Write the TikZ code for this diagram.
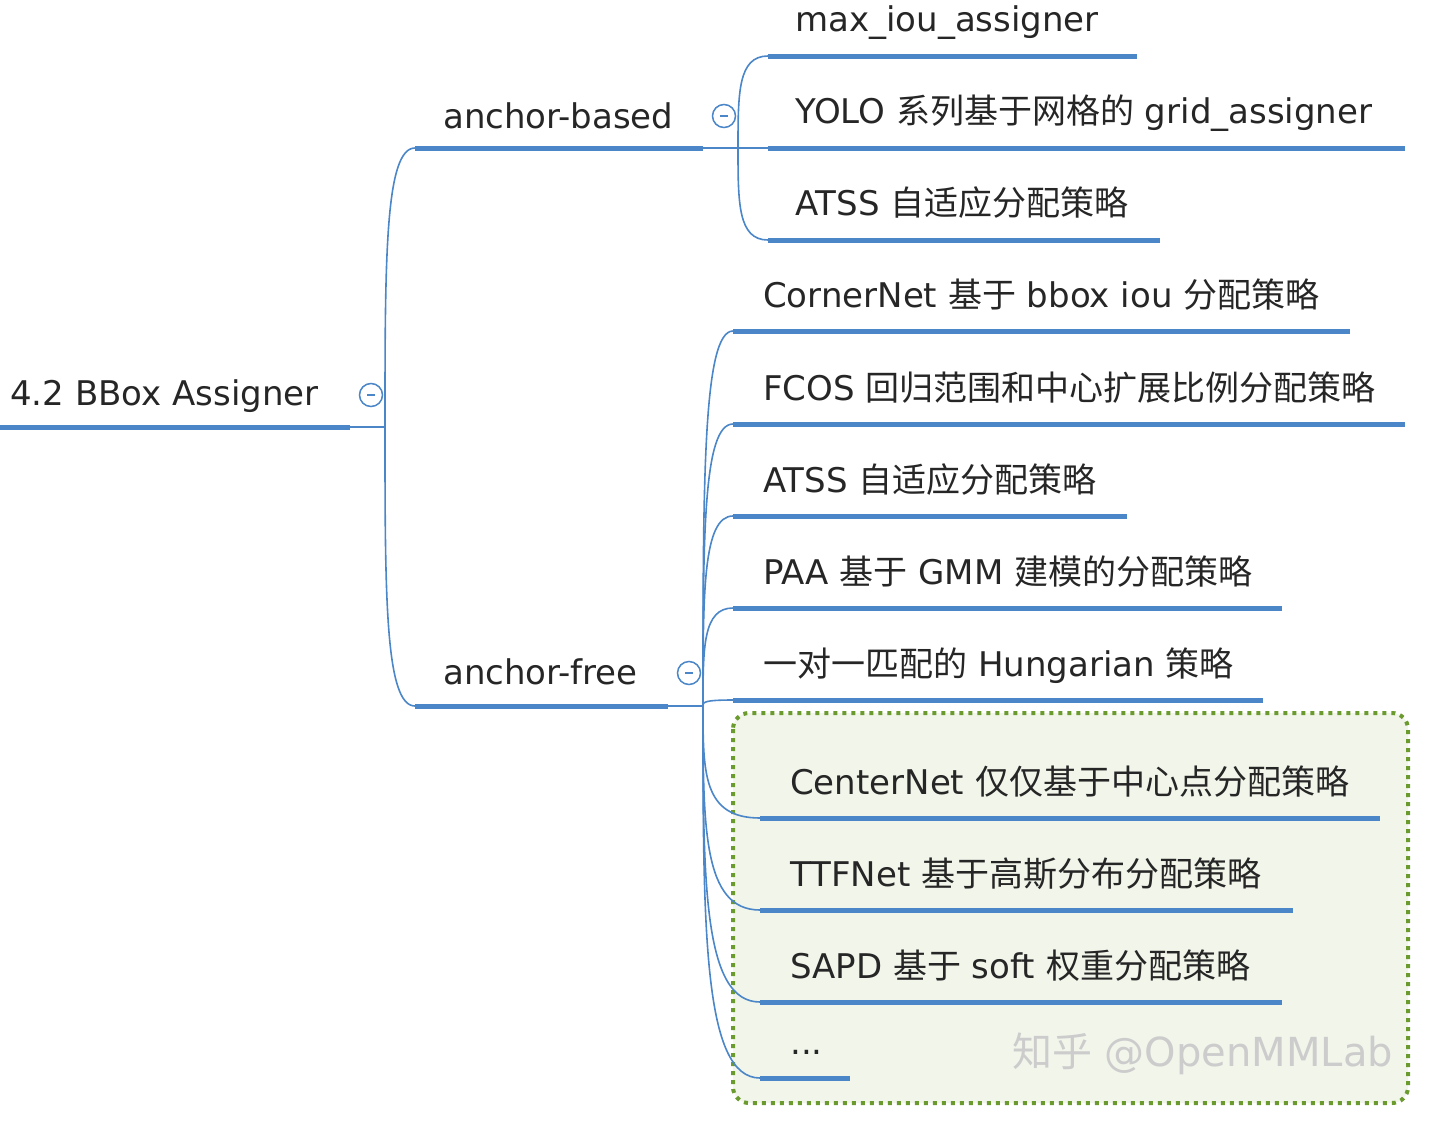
\documentclass[tikz,border=0pt]{standalone}
\usepackage{fontspec}
\usetikzlibrary{calc}
\setmainfont{DejaVu Sans}
\newfontfamily\cjk{Noto Sans CJK SC}
\newcommand\C[1]{{\cjk #1}}
\definecolor{blu}{HTML}{4A86C8}
\definecolor{grn}{HTML}{6B9A2E}
\definecolor{bgg}{HTML}{F1F5EA}
\begin{document}
\begin{tikzpicture}[x=1pt,y=-1pt,font=\fontsize{34}{40}\selectfont,
 lab/.style={anchor=base west,inner sep=0pt,text=black!85},
 ul/.style={line width=5pt,draw=blu},
 con/.style={line width=1.6pt,draw=blu},
 br/.style={con,to path={.. controls ($(\tikztostart)!0.6!(\tikztostart |- \tikztotarget)$) and ($(\tikztostart |- \tikztotarget)$) .. (\tikztotarget)}},
 tog/.style={circle,draw=blu,line width=1.5pt,fill=white,minimum size=23pt,inner sep=0pt,
   path picture={\draw[blu,line width=1.5pt](path picture bounding box.center)+(-4,0)--+(4,0);}}]
\useasboundingbox (0,0) rectangle (1440,1122);
% dotted box
\draw[grn,line width=4pt,dash pattern=on 4pt off 5pt,fill=bgg,rounded corners=16pt] (733,713) rectangle (1408,1103);
\node[text=gray!40,font=\fontsize{40}{44}\selectfont,anchor=base west,inner sep=0] (wm) at (1012,1066) {\C{知乎} @OpenMMLab};
% root
\node[lab] (root) at (10,405) {4.2 BBox Assigner};
\coordinate (rs) at (0,427); \coordinate (re) at (350,427); \coordinate (rj) at (385,427);
\draw[ul] (rs)--(re); \draw[con] (re)--(rj);
\node[tog] (t0) at (371,395) {};
% anchor-based
\node[lab] (ab) at (443,128) {anchor-based};
\coordinate (abs) at (415,148); \coordinate (abe) at (703,148); \coordinate (abj) at (738,148);
\draw[ul] (abs)--(abe); \draw[con] (abe)--(abj);
\node[tog] (t1) at (724,116) {};
% anchor-free
\node[lab] (af) at (443,684) {anchor-free};
\coordinate (afs) at (415,706); \coordinate (afe) at (668,706); \coordinate (afj) at (703,706);
\draw[ul] (afs)--(afe); \draw[con] (afe)--(afj);
\node[tog] (t2) at (689,673) {};
\draw (rj) edge[br] (abs) edge[br] (afs);
% anchor-based children
\foreach \n/\y/\e/\t in {a1/56/1137/{max\_iou\_assigner},
  a2/148/1405/{YOLO \C{系列基于网格的} grid\_assigner},
  a3/240/1160/{ATSS \C{自适应分配策略}}}{
  \node[lab] (\n) at (795,\y-25) {\t};
  \coordinate (\n s) at (768,\y); \coordinate (\n e) at (\e,\y);
  \draw[ul] (\n s)--(\n e);
  \draw (abj) edge[br] (\n s);
}
% anchor-free children
\foreach \n/\y/\e/\t in {f1/331/1350/{CornerNet \C{基于} bbox iou \C{分配策略}},
  f2/424/1405/{FCOS \C{回归范围和中心扩展比例分配策略}},
  f3/516/1127/{ATSS \C{自适应分配策略}},
  f4/608/1282/{PAA \C{基于} GMM \C{建模的分配策略}},
  f5/700/1263/{\C{一对一匹配的} Hungarian \C{策略}}}{
  \node[lab] (\n) at (763,\y-24) {\t};
  \coordinate (\n s) at (733,\y); \coordinate (\n e) at (\e,\y);
  \draw[ul] (\n s)--(\n e);
  \draw (afj) edge[br] (\n s);
}
\foreach \n/\y/\e/\t in {g1/818/1380/{CenterNet \C{仅仅基于中心点分配策略}},
  g2/910/1293/{TTFNet \C{基于高斯分布分配策略}},
  g3/1002/1282/{SAPD \C{基于} soft \C{权重分配策略}},
  g4/1078/850/{...}}{
  \node[lab] (\n) at (790,\y-24) {\t};
  \coordinate (\n s) at (760,\y); \coordinate (\n e) at (\e,\y);
  \draw[ul] (\n s)--(\n e);
  \draw (afj) edge[br] (\n s);
}
\end{tikzpicture}
\end{document}
